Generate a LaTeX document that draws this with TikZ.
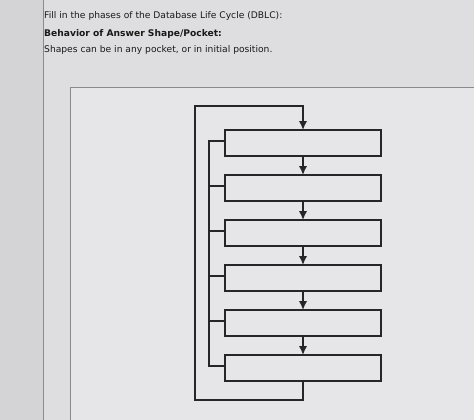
\documentclass[tikz,border=0pt]{standalone}
\usepackage{fontspec}
\setmainfont{DejaVu Sans}
\usetikzlibrary{arrows.meta}

\definecolor{stripbg}{HTML}{D4D4D6}
\definecolor{panelbg}{HTML}{DEDEE0}
\definecolor{framebg}{HTML}{E6E6E8}
\definecolor{rule}{HTML}{8A8A8C}

\begin{document}
\begin{tikzpicture}[%
      x=1pt, y=-1pt,
      pocket/.style={draw=black!85, line width=1.8pt, fill=framebg,
        minimum width=156pt, minimum height=26pt, inner sep=0pt, outer sep=0pt},
      flow/.style={draw=black!85, line width=1.8pt},
      tip/.style={-{Latex[length=9pt,width=8.5pt]}},
      prompt/.style={anchor=west, inner sep=0pt, text=black!90,
        font=\fontsize{9.15}{11}\selectfont},
      ]
      % page
      \fill[stripbg] (0,0) rectangle (474,420);
      \useasboundingbox (0,0) rectangle (474,420);
      \fill[panelbg] (43,0) rectangle (474,420);
      \fill[framebg] (70,87) rectangle (474,420);
      \draw[rule, line width=1pt] (43.5,0) -- (43.5,420);
      \draw[rule, line width=1pt] (70.5,420) -- (70.5,87.5) -- (474,87.5);

      % question text
      \node[prompt] (q) at (44,16) {Fill in the phases of the Database Life Cycle (DBLC):};
      \node[prompt, font=\fontsize{9.15}{11}\selectfont\bfseries] (b) at (44,34) {Behavior of Answer Shape/Pocket:};
      \node[prompt] (s) at (44,50) {Shapes can be in any pocket, or in initial position.};

      % pockets
      \foreach \i in {1,...,6}
        \node[pocket] (p\i) at (303,{143+45*(\i-1)}) {};

      % down arrows
      \foreach \i/\j in {1/2,2/3,3/4,4/5,5/6}
        \draw[flow,tip] (p\i.south) -- (p\j.north);

      % outer loop back to top
      \coordinate (loopbot) at (195,400);
      \coordinate (looptop) at (195,106);
      \draw[flow,tip] (p6.south) |- (loopbot) -- (looptop) -| (p1.north);

      % inner bus on the left
      \draw[flow] ([yshift=2pt]p1.west) -- ++(-16,0) |- ([yshift=2pt]p6.west);
      \foreach \i in {2,...,5}
        \draw[flow] ([yshift=2pt]p\i.west) -- ++(-16,0);
\end{tikzpicture}
\end{document}
